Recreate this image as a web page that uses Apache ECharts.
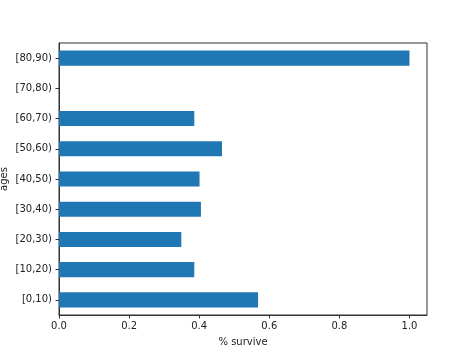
<!DOCTYPE html>
<html>
<head>
<meta charset="utf-8">
<script src="https://cdn.jsdelivr.net/npm/echarts@6/dist/echarts.min.js"></script>
<style>
html,body{margin:0;padding:0;background:#fff;}
#chart{width:474px;height:355px;}
</style>
</head>
<body>
<div id="chart"></div>
<script>
const categories = ['[0,10)', '[10,20)', '[20,30)', '[30,40)', '[40,50)', '[50,60)', '[60,70)', '[70,80)', '[80,90)'];
const survive = [0.568, 0.386, 0.349, 0.405, 0.401, 0.465, 0.386, 0, 1.0];
const xTicks = [0, 0.2, 0.4, 0.6, 0.8, 1.0];

const chart = echarts.init(document.getElementById('chart'), null, {renderer: 'canvas'});
const font = 'DejaVu Sans';
chart.setOption({
  animation: false,
  backgroundColor: '#fff',
  grid: {left: 59, right: 47, top: 43, bottom: 40, containLabel: false, outerBoundsMode: 'none',
         show: true, borderColor: '#333', borderWidth: 1, backgroundColor: 'transparent'},
  xAxis: {
    type: 'value', min: 0, max: 1.05, interval: 0.2,
    name: '% survive', nameLocation: 'middle', nameGap: 22, nameMoveOverlap: false,
    nameTextStyle: {fontFamily: font, fontSize: 10, color: '#222'},
    axisLine: {show: true, lineStyle: {color: '#333', width: 1}},
    axisTick: {show: true, length: 3.5, lineStyle: {color: '#333'}, customValues: xTicks},
    splitLine: {show: false},
    axisLabel: {
      fontFamily: font, fontSize: 10, color: '#222', margin: 6,
      customValues: xTicks,
      formatter: function (v) { return Number(v).toFixed(1); }
    }
  },
  yAxis: {
    type: 'category', data: categories,
    name: 'ages', nameLocation: 'middle', nameGap: 50, nameRotate: 90, nameMoveOverlap: false,
    nameTextStyle: {fontFamily: font, fontSize: 10, color: '#222'},
    axisLine: {show: true, lineStyle: {color: '#333', width: 1}},
    axisTick: {show: true, alignWithLabel: true, length: 3.5, lineStyle: {color: '#333'}},
    axisLabel: {fontFamily: font, fontSize: 10, color: '#222', margin: 7},
    splitLine: {show: false}
  },
  series: [{
    type: 'bar', data: survive, barWidth: '50%',
    itemStyle: {color: '#1f77b4'}
  }]
});
</script>
</body>
</html>
